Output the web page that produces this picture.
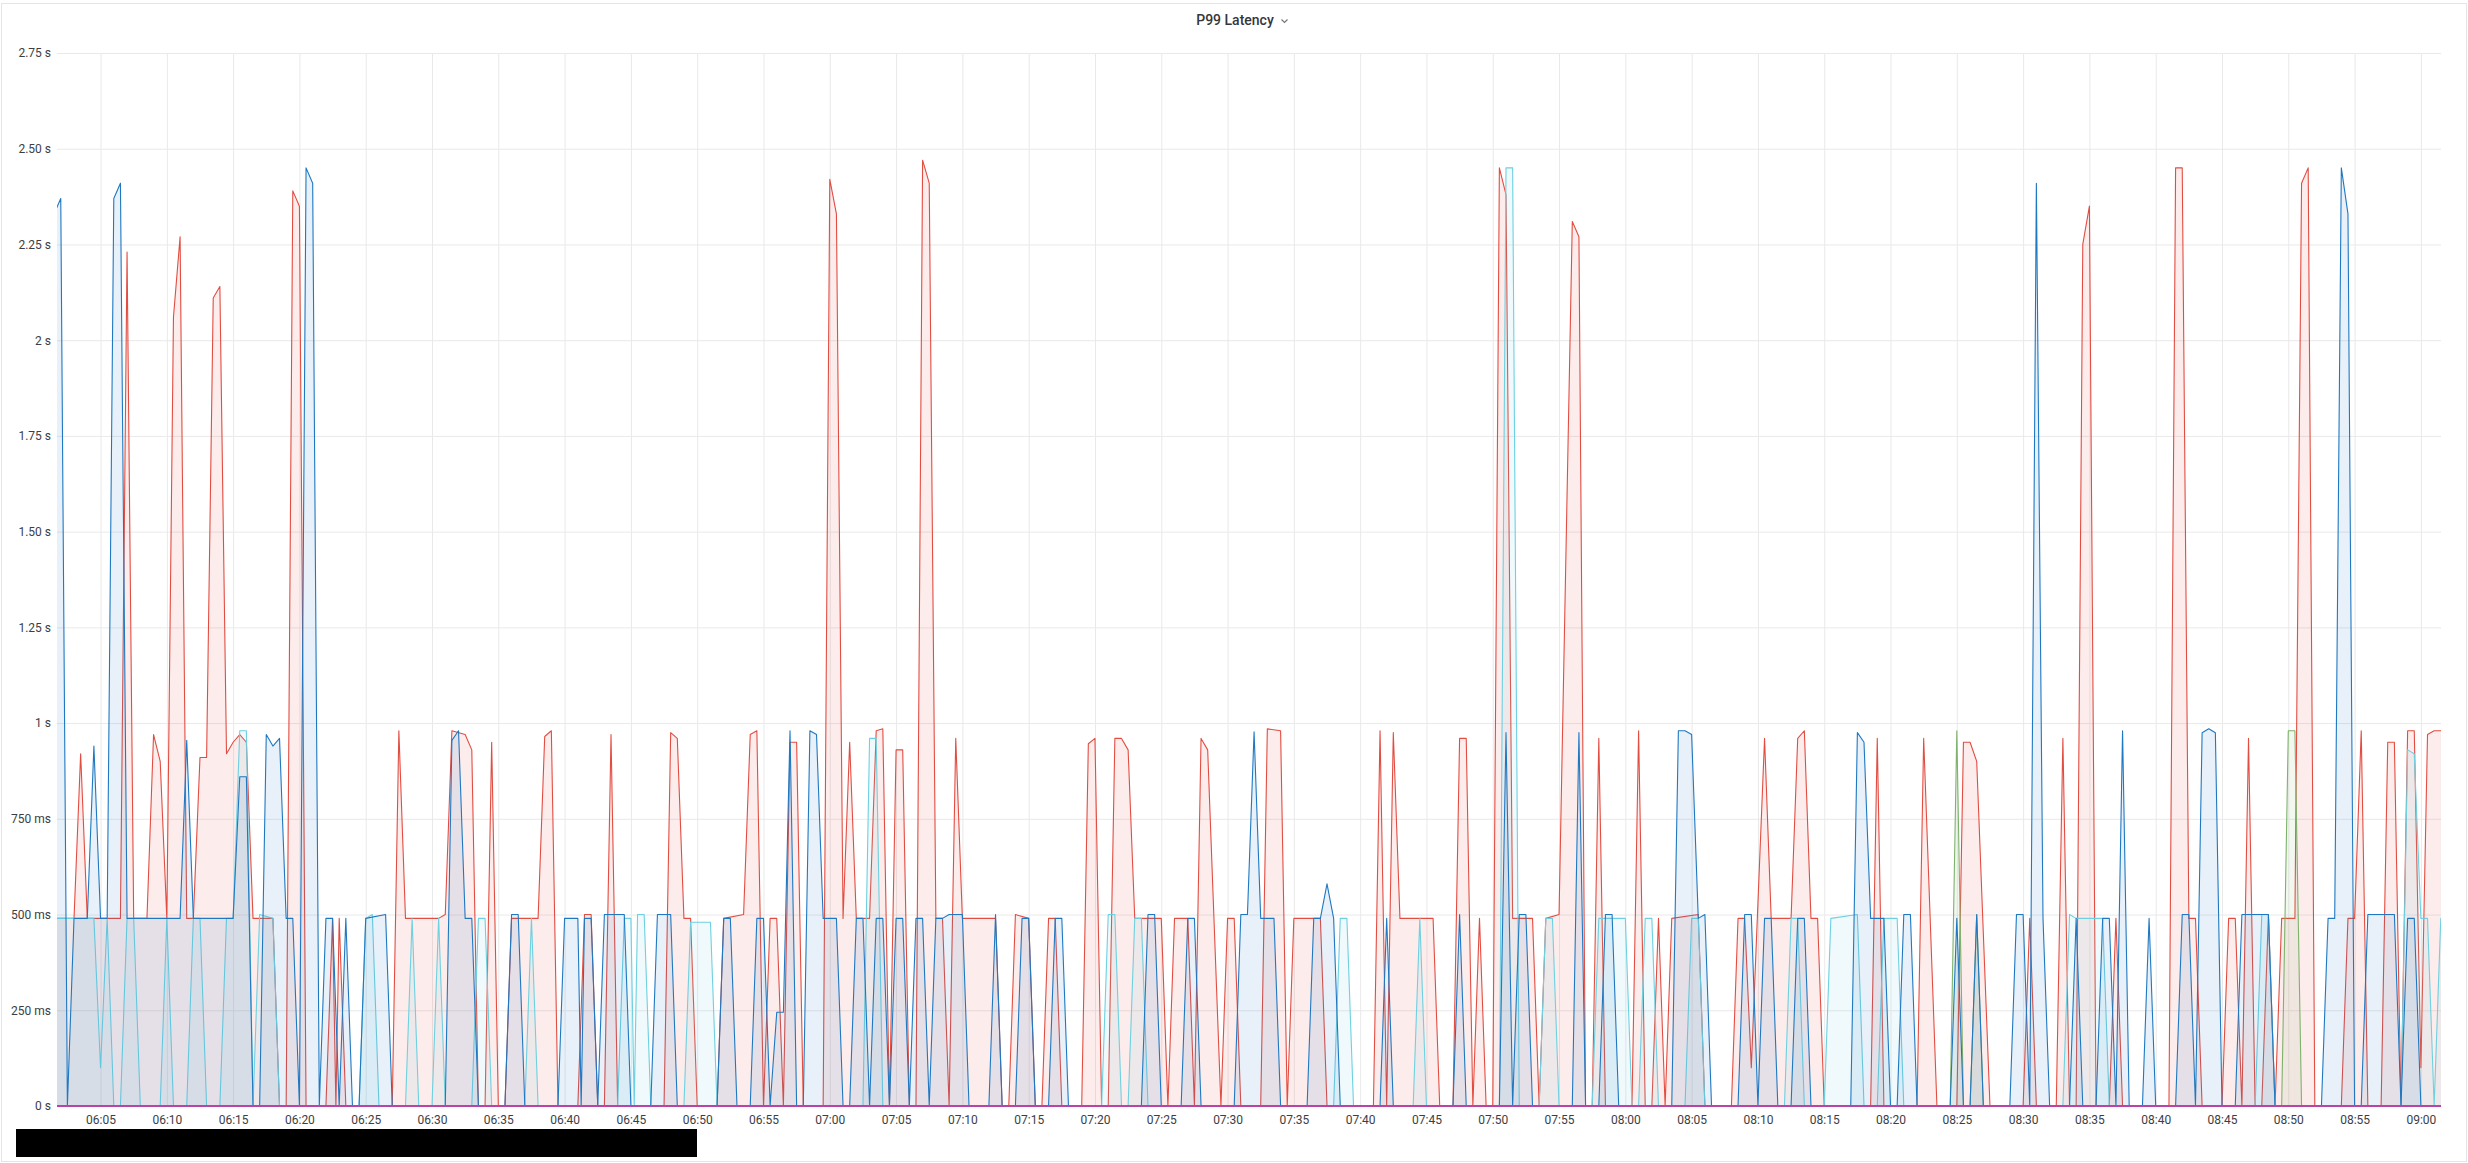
<!DOCTYPE html>
<html>
<head>
<meta charset="utf-8">
<script src="https://cdn.jsdelivr.net/npm/d3@7"></script>
<style>
  body { margin: 0; background: #fff; }
  .chartHolder { width: 2468px; height: 1163px; }
  text { font-family: Roboto, "Noto Sans", sans-serif; }
</style>
</head>
<body>
<div class="chartHolder"></div>
<script>
// P99 latency per series, [time, seconds] (30s steps)
let redData = [["06:01:30",0.49],["06:03:00",0.49],["06:03:30",0.92],["06:04:00",0.49],["06:06:30",0.49],["06:07:00",2.23],["06:07:30",0.49],["06:08:30",0.49],["06:09:00",0.97],["06:09:30",0.90],["06:10:00",0.49],["06:10:30",2.06],["06:11:00",2.27],["06:11:30",0.49],["06:12:00",0.49],["06:12:30",0.91],["06:13:00",0.91],["06:13:30",2.11],["06:14:00",2.14],["06:14:30",0.92],["06:15:00",0.95],["06:15:30",0.97],["06:16:00",0.95],["06:16:30",0.49],["06:18:00",0.49],["06:18:30",0],["06:19:00",0],["06:19:30",2.39],["06:20:00",2.35],["06:20:30",0],["06:22:00",0],["06:22:30",0.49],["06:22:45",0],["06:23:00",0.49],["06:23:30",0],["06:27:00",0],["06:27:30",0.98],["06:28:00",0.49],["06:30:30",0.49],["06:31:00",0.5],["06:31:30",0.98],["06:32:30",0.97],["06:33:00",0.93],["06:33:30",0],["06:34:00",0],["06:34:30",0.95],["06:35:00",0],["06:35:30",0],["06:36:00",0.49],["06:38:00",0.49],["06:38:30",0.965],["06:39:00",0.98],["06:39:30",0],["06:41:00",0],["06:41:30",0.5],["06:42:00",0.5],["06:42:30",0],["06:43:00",0],["06:43:30",0.97],["06:44:00",0],["06:47:30",0],["06:48:00",0.975],["06:48:30",0.96],["06:49:00",0.49],["06:49:30",0.49],["06:50:00",0],["06:51:30",0],["06:52:00",0.49],["06:53:30",0.5],["06:54:00",0.97],["06:54:30",0.98],["06:55:00",0],["06:55:30",0.49],["06:56:00",0.49],["06:56:30",0],["06:57:00",0.95],["06:57:30",0.95],["06:58:00",0],["06:59:30",0],["07:00:00",2.42],["07:00:30",2.33],["07:01:00",0.49],["07:01:30",0.95],["07:02:00",0.49],["07:03:00",0.49],["07:03:30",0.98],["07:04:00",0.985],["07:04:30",0],["07:05:00",0.93],["07:05:30",0.93],["07:06:00",0],["07:06:30",0],["07:07:00",2.47],["07:07:30",2.41],["07:08:00",0.49],["07:08:30",0.49],["07:09:00",0],["07:09:30",0.96],["07:10:00",0.49],["07:12:30",0.49],["07:13:00",0],["07:13:30",0],["07:14:00",0.5],["07:15:00",0.49],["07:15:30",0],["07:16:00",0],["07:16:30",0.49],["07:17:00",0.49],["07:17:30",0],["07:19:00",0],["07:19:30",0.946],["07:20:00",0.96],["07:20:30",0],["07:21:00",0],["07:21:30",0.96],["07:22:00",0.96],["07:22:30",0.93],["07:23:00",0.49],["07:25:00",0.49],["07:25:30",0],["07:26:00",0.49],["07:27:00",0.49],["07:27:30",0],["07:28:00",0.96],["07:28:30",0.93],["07:29:30",0],["07:30:00",0.49],["07:30:30",0.49],["07:31:00",0],["07:32:30",0],["07:33:00",0.985],["07:34:00",0.98],["07:34:30",0],["07:35:00",0.49],["07:37:00",0.49],["07:37:30",0],["07:41:00",0],["07:41:30",0.98],["07:42:00",0],["07:42:30",0.975],["07:43:00",0.49],["07:45:30",0.49],["07:46:00",0],["07:47:00",0],["07:47:30",0.96],["07:48:00",0.96],["07:48:30",0],["07:49:00",0.49],["07:49:30",0],["07:50:00",0],["07:50:30",2.45],["07:51:00",2.38],["07:51:30",0.49],["07:53:00",0.49],["07:53:30",0],["07:54:00",0.49],["07:55:00",0.5],["07:56:00",2.31],["07:56:30",2.27],["07:57:00",0],["07:57:30",0],["07:58:00",0.96],["07:58:30",0],["08:00:30",0],["08:01:00",0.98],["08:01:30",0],["08:02:00",0],["08:02:30",0.49],["08:03:00",0],["08:03:30",0.49],["08:05:30",0.5],["08:06:00",0],["08:08:00",0],["08:08:30",0.49],["08:09:00",0.49],["08:09:30",0.1],["08:10:30",0.96],["08:11:00",0.49],["08:12:30",0.49],["08:13:00",0.96],["08:13:30",0.98],["08:14:00",0.49],["08:14:30",0.49],["08:15:00",0],["08:18:30",0],["08:19:00",0.96],["08:19:30",0],["08:22:00",0],["08:22:30",0.96],["08:23:30",0],["08:25:00",0],["08:25:30",0.95],["08:26:00",0.95],["08:26:30",0.90],["08:27:30",0],["08:30:00",0],["08:30:30",0.49],["08:31:00",0],["08:32:30",0],["08:33:00",0.96],["08:33:30",0],["08:34:00",0],["08:34:30",2.25],["08:35:00",2.35],["08:35:30",0],["08:36:30",0],["08:37:00",0.49],["08:37:30",0],["08:41:00",0],["08:41:30",2.45],["08:42:00",2.45],["08:42:30",0.49],["08:43:00",0.49],["08:43:30",0],["08:45:00",0],["08:45:30",0.49],["08:46:00",0.49],["08:46:30",0],["08:47:00",0.96],["08:47:30",0],["08:48:00",0],["08:48:30",0.5],["08:49:00",0],["08:49:30",0.49],["08:50:30",0.49],["08:51:00",2.41],["08:51:30",2.45],["08:52:00",0],["08:54:00",0],["08:54:30",0.49],["08:55:00",0.49],["08:55:30",0.98],["08:56:00",0],["08:57:00",0],["08:57:30",0.95],["08:58:00",0.95],["08:58:30",0],["08:59:00",0.98],["08:59:30",0.98],["09:00:00",0.1],["09:00:30",0.97],["09:01:00",0.98],["09:02:00",0.98]];

let blueData = [["06:01:30",2.33],["06:02:00",2.37],["06:02:30",0],["06:03:00",0.49],["06:04:00",0.49],["06:04:30",0.94],["06:05:00",0.49],["06:05:30",0.49],["06:06:00",2.37],["06:06:30",2.41],["06:07:00",0.49],["06:11:00",0.49],["06:11:30",0.955],["06:12:00",0.49],["06:15:00",0.49],["06:15:30",0.86],["06:16:00",0.86],["06:16:30",0],["06:17:00",0],["06:17:30",0.97],["06:18:00",0.94],["06:18:30",0.96],["06:19:00",0.49],["06:19:30",0.49],["06:20:00",0],["06:20:30",2.45],["06:21:00",2.41],["06:21:30",0],["06:22:00",0.49],["06:22:30",0.49],["06:23:00",0],["06:23:30",0.49],["06:24:00",0],["06:24:30",0],["06:25:00",0.49],["06:26:30",0.5],["06:27:00",0],["06:31:00",0],["06:31:30",0.955],["06:32:00",0.98],["06:32:30",0.49],["06:33:00",0.49],["06:33:30",0],["06:35:30",0],["06:36:00",0.5],["06:36:30",0.5],["06:37:00",0],["06:39:30",0],["06:40:00",0.49],["06:41:00",0.49],["06:41:15",0],["06:41:30",0.49],["06:42:00",0.49],["06:42:30",0],["06:43:00",0.5],["06:44:30",0.5],["06:45:00",0],["06:46:30",0],["06:47:00",0.5],["06:48:00",0.5],["06:48:30",0],["06:51:30",0],["06:52:00",0.49],["06:52:30",0.49],["06:53:00",0],["06:54:00",0],["06:54:30",0.49],["06:55:00",0.49],["06:55:30",0],["06:56:00",0.245],["06:56:30",0.245],["06:57:00",0.98],["06:57:30",0],["06:58:00",0],["06:58:30",0.98],["06:59:00",0.97],["06:59:30",0.49],["07:00:30",0.49],["07:01:00",0],["07:01:30",0],["07:02:00",0.49],["07:02:30",0.49],["07:03:00",0],["07:03:30",0.49],["07:04:00",0.49],["07:04:30",0],["07:05:00",0.49],["07:05:30",0.49],["07:06:00",0],["07:06:30",0.49],["07:07:00",0.49],["07:07:30",0],["07:08:00",0.49],["07:08:30",0.49],["07:09:00",0.5],["07:10:00",0.5],["07:10:30",0],["07:12:00",0],["07:12:30",0.5],["07:13:00",0],["07:14:00",0],["07:14:30",0.49],["07:15:00",0.49],["07:15:30",0],["07:16:30",0],["07:17:00",0.49],["07:17:30",0.49],["07:18:00",0],["07:23:30",0],["07:24:00",0.5],["07:24:30",0.5],["07:25:00",0],["07:26:30",0],["07:27:00",0.49],["07:27:30",0.49],["07:28:00",0],["07:30:30",0],["07:31:00",0.5],["07:31:30",0.5],["07:32:00",0.977],["07:32:30",0.49],["07:33:30",0.49],["07:34:00",0],["07:36:00",0],["07:36:30",0.49],["07:37:00",0.49],["07:37:30",0.58],["07:38:00",0.49],["07:38:30",0],["07:41:30",0],["07:42:00",0.49],["07:42:30",0],["07:47:00",0],["07:47:30",0.5],["07:48:00",0],["07:50:30",0],["07:51:00",0.975],["07:51:30",0],["07:52:00",0.5],["07:52:30",0.5],["07:53:00",0],["07:56:00",0],["07:56:30",0.975],["07:57:00",0],["07:58:00",0],["07:58:30",0.5],["07:59:00",0.5],["07:59:30",0],["08:03:30",0],["08:04:00",0.98],["08:04:30",0.98],["08:05:00",0.97],["08:05:30",0.49],["08:06:00",0.5],["08:06:30",0],["08:08:30",0],["08:09:00",0.5],["08:09:30",0.5],["08:10:00",0],["08:10:30",0.49],["08:11:00",0.49],["08:11:30",0],["08:12:30",0],["08:13:00",0.49],["08:13:30",0.49],["08:14:00",0],["08:17:00",0],["08:17:30",0.975],["08:18:00",0.95],["08:18:30",0.49],["08:19:30",0.49],["08:20:00",0],["08:20:30",0],["08:21:00",0.5],["08:21:30",0.5],["08:22:00",0],["08:24:30",0],["08:25:00",0.49],["08:25:30",0],["08:26:00",0],["08:26:30",0.5],["08:27:00",0],["08:29:00",0],["08:29:30",0.5],["08:30:00",0.5],["08:30:30",0],["08:31:00",2.41],["08:31:30",0.49],["08:32:00",0],["08:33:30",0],["08:34:00",0.49],["08:34:30",0],["08:35:30",0],["08:36:00",0.49],["08:36:30",0.49],["08:37:00",0],["08:37:30",0.98],["08:38:00",0],["08:39:00",0],["08:39:30",0.49],["08:40:00",0],["08:41:30",0],["08:42:00",0.5],["08:42:30",0.5],["08:43:00",0],["08:43:30",0.975],["08:44:00",0.985],["08:44:30",0.975],["08:45:00",0],["08:46:00",0],["08:46:30",0.5],["08:48:30",0.5],["08:49:00",0],["08:52:30",0],["08:53:00",0.49],["08:53:30",0.49],["08:54:00",2.45],["08:54:30",2.33],["08:55:00",0],["08:55:30",0],["08:56:00",0.5],["08:58:00",0.5],["08:58:30",0],["08:59:00",0.49],["08:59:30",0.49],["09:00:00",0],["09:02:00",0]];

let cyanData = [["06:01:30",0.49],["06:04:30",0.49],["06:05:00",0.1],["06:05:30",0.49],["06:06:00",0],["06:06:30",0],["06:07:00",0.49],["06:07:30",0.49],["06:08:00",0],["06:09:30",0],["06:10:00",0.49],["06:10:30",0],["06:11:30",0],["06:12:00",0.49],["06:12:30",0.49],["06:13:00",0],["06:14:00",0],["06:14:30",0.49],["06:15:00",0.49],["06:15:30",0.98],["06:16:00",0.98],["06:16:30",0],["06:17:00",0.5],["06:18:00",0.49],["06:18:30",0],["06:24:30",0],["06:25:00",0.49],["06:25:30",0.5],["06:26:00",0],["06:28:00",0],["06:28:30",0.49],["06:29:00",0],["06:30:00",0],["06:30:30",0.49],["06:31:00",0],["06:33:00",0],["06:33:30",0.49],["06:34:00",0.49],["06:34:30",0],["06:37:00",0],["06:37:30",0.49],["06:38:00",0],["06:44:00",0],["06:44:30",0.49],["06:45:00",0.49],["06:45:15",0],["06:45:30",0.5],["06:46:00",0.5],["06:46:30",0],["06:49:00",0],["06:49:30",0.48],["06:51:00",0.48],["06:51:30",0],["07:02:30",0],["07:03:00",0.96],["07:03:30",0.96],["07:04:00",0],["07:20:30",0],["07:21:00",0.5],["07:21:30",0.5],["07:22:00",0],["07:22:30",0],["07:23:00",0.49],["07:23:30",0.49],["07:24:00",0],["07:38:00",0],["07:38:30",0.49],["07:39:00",0.49],["07:39:30",0],["07:44:00",0],["07:44:30",0.49],["07:45:00",0],["07:50:30",0],["07:51:00",2.45],["07:51:30",2.45],["07:52:00",0],["07:53:30",0],["07:54:00",0.49],["07:54:30",0.49],["07:55:00",0],["07:57:30",0],["07:58:00",0.49],["08:00:00",0.49],["08:00:30",0],["08:01:00",0],["08:01:30",0.49],["08:02:00",0.49],["08:02:30",0],["08:04:30",0],["08:05:00",0.49],["08:05:30",0.49],["08:06:00",0],["08:12:00",0],["08:12:30",0.49],["08:13:00",0.49],["08:13:30",0],["08:15:00",0],["08:15:30",0.49],["08:17:30",0.5],["08:18:00",0],["08:19:00",0],["08:19:30",0.49],["08:20:30",0.49],["08:21:00",0],["08:33:00",0],["08:33:30",0.5],["08:34:00",0.49],["08:36:00",0.49],["08:36:30",0],["08:47:30",0],["08:48:00",0.5],["08:48:30",0.5],["08:49:00",0],["08:58:30",0],["08:59:00",0.93],["08:59:30",0.92],["09:00:00",0.49],["09:00:30",0.49],["09:01:00",0],["09:01:30",0.49],["09:02:00",0.49]];

let greenData = [["06:01:30",0],["08:24:30",0],["08:25:00",0.98],["08:25:30",0],["08:26:00",0],["08:26:30",0.5],["08:27:00",0],["08:49:30",0],["08:50:00",0.98],["08:50:30",0.98],["08:51:00",0],["09:02:00",0]];

let purpleData = [["06:01:30",0],["09:02:00",0]];

// y axis ticks and their Grafana style labels
let yTickValues = [0, 0.25, 0.5, 0.75, 1, 1.25, 1.5, 1.75, 2, 2.25, 2.5, 2.75];
let yTickLabels = ["0 s", "250 ms", "500 ms", "750 ms", "1 s", "1.25 s", "1.50 s", "1.75 s", "2 s", "2.25 s", "2.50 s", "2.75 s"];

let timeRange = ["06:01:43", "09:01:31"];

let width = 2468,
  height = 1163,
  plotLeft = 57,
  plotRight = 2441,
  plotTop = 53,
  plotBottom = 1106;

let parseTime = d3.timeParse("%H:%M:%S");

let seriesList = [
  { name: "red", color: "#E24D42", data: redData },
  { name: "cyan", color: "#6ED0E0", data: cyanData },
  { name: "green", color: "#7EB26D", data: greenData },
  { name: "blue", color: "#1F78C1", data: blueData },
  { name: "purple", color: "#BA43A9", data: purpleData }
];

let svgChart = d3
  .select(".chartHolder")
  .append("svg")
  .attr("width", width)
  .attr("height", height);

// panel frame
svgChart
  .append("rect")
  .attr("x", 1.5)
  .attr("y", 3.5)
  .attr("width", width - 3)
  .attr("height", height - 5)
  .attr("fill", "#fff")
  .attr("stroke", "#e3e5e8");

// title
svgChart
  .append("text")
  .attr("x", 1235)
  .attr("y", 25)
  .attr("text-anchor", "middle")
  .style("font-size", "14px")
  .style("font-weight", 500)
  .style("fill", "#34373d")
  .text("P99 Latency");
svgChart
  .append("path")
  .attr("d", "M1281.5,19.5 L1284.5,22.5 L1287.5,19.5")
  .attr("fill", "none")
  .attr("stroke", "#6e737a")
  .attr("stroke-width", 1.1);

//////////////////////////////////
////////////  SCALES  ////////////
//////////////////////////////////
let xScale = d3
  .scaleTime()
  .domain(timeRange.map(parseTime))
  .range([plotLeft, plotRight]);

let yScale = d3
  .scaleLinear()
  .domain([0, 2.75])
  .range([plotBottom, plotTop]);

// horizontal grid + y labels
let yAxis = d3
  .axisLeft(yScale)
  .tickValues(yTickValues)
  .tickFormat((d, i) => yTickLabels[i])
  .tickSize(-(plotRight - plotLeft))
  .tickPadding(6);

let yAxisGroup = svgChart
  .append("g")
  .attr("transform", "translate(" + plotLeft + ",0)")
  .call(yAxis);
yAxisGroup.select(".domain").remove();
yAxisGroup.selectAll("line").attr("stroke", "#e9e9e9");
yAxisGroup
  .selectAll("text")
  .style("font-size", "12px")
  .style("fill", "#3b3e44")
  .style("font-family", "Roboto, sans-serif");

// vertical grid + time labels
let xAxis = d3
  .axisBottom(xScale)
  .ticks(d3.timeMinute.every(5))
  .tickFormat(d3.timeFormat("%H:%M"))
  .tickSize(-(plotBottom - plotTop))
  .tickPadding(9);

let xAxisGroup = svgChart
  .append("g")
  .attr("transform", "translate(0," + plotBottom + ")")
  .call(xAxis);
xAxisGroup.select(".domain").remove();
xAxisGroup.selectAll("line").attr("stroke", "#e9e9e9");
xAxisGroup
  .selectAll("text")
  .style("font-size", "12px")
  .style("fill", "#3b3e44")
  .style("font-family", "Roboto, sans-serif");

//////////////////////////////////
////////////  SERIES  ////////////
//////////////////////////////////
svgChart
  .append("clipPath")
  .attr("id", "plotClip")
  .append("rect")
  .attr("x", plotLeft)
  .attr("y", plotTop - 5)
  .attr("width", plotRight - plotLeft)
  .attr("height", plotBottom - plotTop + 6);

let area = d3
  .area()
  .x((d) => xScale(parseTime(d[0])))
  .y0(yScale(0))
  .y1((d) => yScale(d[1]));

let line = d3
  .line()
  .x((d) => xScale(parseTime(d[0])))
  .y((d) => yScale(d[1]));

let seriesGroup = svgChart.append("g").attr("clip-path", "url(#plotClip)");

seriesList.forEach((s) => {
  seriesGroup
    .append("path")
    .datum(s.data)
    .attr("d", area)
    .attr("fill", s.color)
    .attr("fill-opacity", 0.1);
  seriesGroup
    .append("path")
    .datum(s.data)
    .attr("d", line)
    .attr("fill", "none")
    .attr("stroke", s.color)
    .attr("stroke-width", s.name === "purple" ? 2 : 1.1)
    .attr("stroke-linejoin", "round");
});

// legend area is blacked out in the source picture
svgChart
  .append("rect")
  .attr("x", 16)
  .attr("y", 1129)
  .attr("width", 681)
  .attr("height", 28)
  .attr("fill", "#000");
</script>
</body>
</html>
